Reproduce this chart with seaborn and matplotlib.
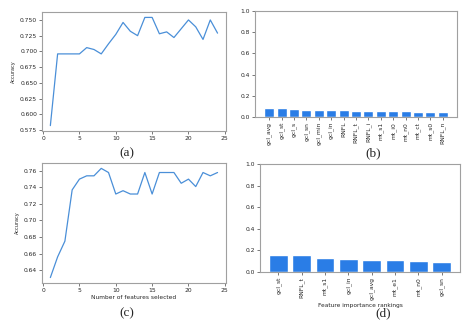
import seaborn as sns
import matplotlib
matplotlib.use("Agg")
import matplotlib.pyplot as plt
import pandas as pd

# (a) accuracy vs number of features
n_feat = list(range(1, 25))
acc_a = [0.582, 0.696, 0.696, 0.696, 0.696, 0.706, 0.703, 0.696, 0.712, 0.727,
         0.746, 0.732, 0.725, 0.754, 0.754, 0.728, 0.731, 0.722, 0.736, 0.750,
         0.739, 0.719, 0.750, 0.729]
# (c)
acc_c = [0.631, 0.656, 0.675, 0.737, 0.750, 0.754, 0.754, 0.763, 0.758, 0.732,
         0.736, 0.732, 0.732, 0.758, 0.732, 0.758, 0.758, 0.758, 0.745, 0.750,
         0.741, 0.758, 0.754, 0.758]

# (b) feature importances
feat_b = ["gcl_avg", "gcl_st", "gcl_s", "gcl_sn", "gcl_min", "gcl_in", "RNFL",
          "RNFL_t", "RNFL_i", "mt_s1", "mt_i0", "mt_n0", "mt_ct", "mt_s0", "RNFL_n"]
imp_b = [0.085, 0.082, 0.073, 0.066, 0.066, 0.063, 0.063, 0.060, 0.060, 0.057,
         0.054, 0.054, 0.047, 0.047, 0.044]

# (d)
feat_d = ["gcl_st", "RNFL_t", "mt_s1", "gcl_in", "gcl_avg", "mt_e1", "mt_n0", "gcl_sn"]
imp_d = [0.153, 0.153, 0.125, 0.122, 0.109, 0.109, 0.106, 0.094]

line_col = "#4a8fd8"
bar_col = "#2a7de6"
spine_col = "#a0a0a0"

sns.set_style("ticks")
plt.rcParams["font.family"] = ["DejaVu Sans"]

fig = plt.figure(figsize=(4.74, 3.29), dpi=100)
ax_a = fig.add_axes([0.0886, 0.6018, 0.388, 0.3617])
ax_b = fig.add_axes([0.538, 0.6444, 0.426, 0.322])
ax_c = fig.add_axes([0.0886, 0.1398, 0.388, 0.365])
ax_d = fig.add_axes([0.5485, 0.1733, 0.422, 0.328])


def style(ax):
    for s in ax.spines.values():
        s.set_color(spine_col)
        s.set_linewidth(0.8)
        s.set_visible(True)
    ax.tick_params(labelsize=4.3, length=2, width=0.5, color="#444444", pad=1.5)


# line plots
for ax, vals in [(ax_a, acc_a), (ax_c, acc_c)]:
    df = pd.DataFrame({"n": n_feat, "acc": vals})
    sns.lineplot(data=df, x="n", y="acc", ax=ax, color=line_col, linewidth=0.9)
    ax.set_xticks([0, 5, 10, 15, 20, 25])
    ax.set_ylabel("Accuracy", fontsize=3.6, labelpad=3)
    ax.set_xlabel("")
    style(ax)
ax_a.set_yticks([0.575, 0.600, 0.625, 0.650, 0.675, 0.700, 0.725, 0.750])
ax_a.set_yticklabels(["%.3f" % v for v in ax_a.get_yticks()])
ax_c.set_yticks([0.64, 0.66, 0.68, 0.70, 0.72, 0.74, 0.76])
ax_c.set_yticklabels(["%.2f" % v for v in ax_c.get_yticks()])
ax_c.set_xlabel("Number of features selected", fontsize=4.2, labelpad=1.5)

# bar plots
for ax, feats, vals in [(ax_b, feat_b, imp_b), (ax_d, feat_d, imp_d)]:
    df = pd.DataFrame({"f": feats, "v": vals})
    sns.barplot(data=df, x="f", y="v", ax=ax, color=bar_col, saturation=1, width=0.8)
    n = len(feats)
    pad = 0.05 * (n - 0.2)
    ax.set_xlim(-0.4 - pad, n - 0.6 + pad)
    ax.set_ylim(0, 1.0)
    ax.set_yticks([0.0, 0.2, 0.4, 0.6, 0.8, 1.0])
    ax.tick_params(axis="x", rotation=90)
    ax.set_xlabel("")
    ax.set_ylabel("")
    style(ax)
ax_d.set_xlabel("Feature importance rankings", fontsize=4.2, labelpad=2)

caps = [("(a)", 127, 153), ("(b)", 373, 153), ("(c)", 127, 313), ("(d)", 383, 313)]
for t, x, y in caps:
    fig.text(x / 474, 1 - y / 329, t, ha="center", va="center",
             fontsize=9.5, family="Liberation Serif")

fig.savefig("out.png", dpi=100)
